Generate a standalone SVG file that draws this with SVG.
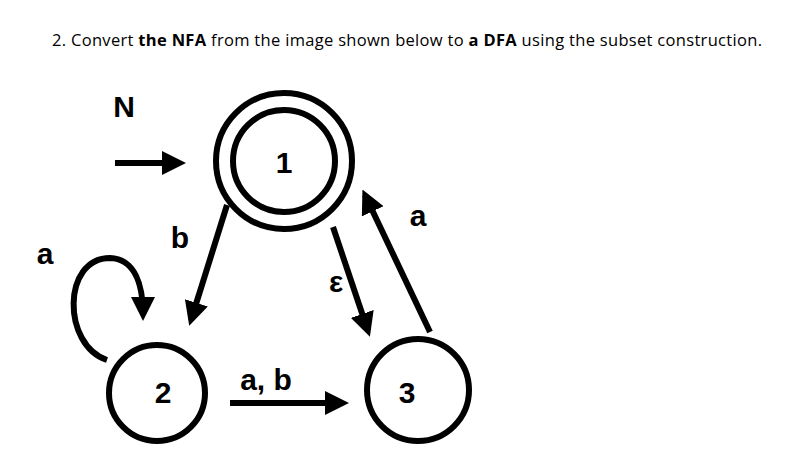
<svg xmlns="http://www.w3.org/2000/svg" width="790" height="463" viewBox="0 0 790 463">
<style>
.c{fill:none;stroke:#000;stroke-width:6}
.e{fill:none;stroke:#000;stroke-width:6}
.l{font-family:"Liberation Sans",Arial,sans-serif;font-weight:bold;font-size:30px;text-anchor:middle}
.t{font-family:"Open Sans","Liberation Sans",sans-serif;font-size:16.5px}
</style>
<defs><marker id="ah" markerWidth="4" markerHeight="4" refX="3" refY="2" orient="auto"><path d="M0,0L4,2L0,4z"/></marker></defs>
<rect width="790" height="463" fill="#fff"/>
<text class="t" x="52" y="46" textLength="710">2. Convert <tspan font-weight="bold">the NFA</tspan> from the image shown below to <tspan font-weight="bold">a DFA</tspan> using the subset construction.</text>
<text class="l" x="124" y="117" font-size="34">N</text>
<g id="n1"><circle class="c" cx="284" cy="161" r="68"/><circle class="c" cx="284" cy="161" r="51"/><text class="l" x="284" y="173">1</text></g>
<g id="n2"><circle class="c" cx="157" cy="393" r="48"/><text class="l" x="163" y="403">2</text></g>
<g id="n3"><circle class="c" cx="418" cy="390" r="51"/><text class="l" x="407" y="403">3</text></g>
<g id="edges">
<line class="e" x1="115" y1="163" x2="180" y2="163" marker-end="url(#ah)"/>
<line class="e" x1="227" y1="205" x2="191" y2="320" marker-end="url(#ah)"/>
<path class="e" d="M107,360 C62,345 62,258 110,258 C135,259 143,285 143,315" marker-end="url(#ah)"/>
<line class="e" x1="333" y1="227" x2="368" y2="331" marker-end="url(#ah)"/>
<line class="e" x1="430" y1="332" x2="365" y2="195" marker-end="url(#ah)"/>
<line class="e" x1="230" y1="403" x2="343" y2="403" marker-end="url(#ah)"/>
<text class="l" x="45" y="264">a</text>
<text class="l" x="180" y="248">b</text>
<text class="l" x="336" y="292">ε</text>
<text class="l" x="418" y="226">a</text>
<text class="l" x="266" y="390">a, b</text>
</g>
</svg>
